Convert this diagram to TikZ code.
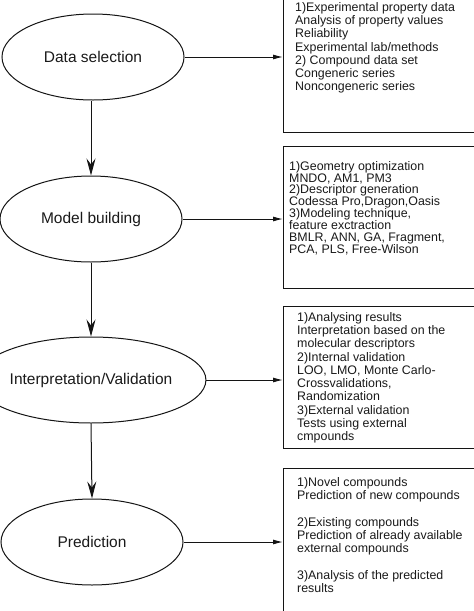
\documentclass[tikz,border=0pt]{standalone}
\usepackage{fontspec}
\setmainfont{Liberation Sans}
\usetikzlibrary{shapes.geometric, arrows.meta}
\definecolor{lineblack}{RGB}{20,20,20}
\definecolor{textgray}{RGB}{25,25,25}

\begin{document}
\begin{tikzpicture}[x=1pt, y=-1pt,
  stage/.style={draw=lineblack, line width=1pt, ellipse, minimum width=182pt, minimum height=86pt, inner sep=0pt, font=\fontsize{15.5}{18}\selectfont, text=textgray},
  infobox/.style={draw=lineblack, line width=1pt, rectangle, anchor=north west, minimum width=200pt, inner sep=0pt},
  infotext/.style={anchor=north west, align=left, inner sep=0pt, text=textgray, font=\fontsize{12.4}{13.3}\selectfont},
  flowarrow/.style={draw=lineblack, line width=1pt, -{Stealth[length=17pt, width=9pt, inset=6pt]}},
  linkarrow/.style={draw=lineblack, line width=1pt, -{Latex[length=10pt, width=5pt]}}]
\useasboundingbox (0,0) rectangle (474,611);

% Stages
\node[stage] (select) at (93,57) {Data selection};
\node[stage] (build) at (91,219) {Model building};
\node[stage] (valid) at (91,380) {Interpretation/Validation};
\node[stage] (predict) at (92,542) {Prediction};

% Detail boxes
\node[infobox, minimum height=137pt] (dataset) at (283,-5) {};
\node[infobox, minimum height=142pt] (modeling) at (283,146) {};
\node[infobox, minimum height=142pt] (checks) at (283,306) {};
\node[infobox, minimum height=152pt] (outcome) at (283,468) {};

% Box texts
\node[infotext] (dataset text) at (295,2) {1)Experimental property data\\Analysis of property values\\Reliability\\Experimental lab/methods\\2) Compound data set\\Congeneric series\\Noncongeneric series};
\node[infotext, font=\fontsize{12.4}{11.9}\selectfont] (modeling text) at (289,161) {1)Geometry optimization\\MNDO, AM1, PM3\\2)Descriptor generation\\Codessa Pro,Dragon,Oasis\\3)Modeling technique,\\feature exctraction\\BMLR, ANN, GA, Fragment,\\PCA, PLS, Free-Wilson};
\node[infotext] (checks text) at (297,312) {1)Analysing results\\Interpretation based on the\\molecular descriptors\\2)Internal validation\\LOO, LMO, Monte Carlo-\\Crossvalidations,\\Randomization\\3)External validation\\Tests using external\\cmpounds};
\node[infotext] (outcome text) at (297,477) {1)Novel compounds\\Prediction of new compounds\\[13.3pt]2)Existing compounds\\Prediction of already available\\external compounds\\[13.3pt]3)Analysis of the predicted\\results};

% Flow
\draw[flowarrow] (build.north |- select.south) -- (build.north);
\draw[flowarrow] (build.south) -- (valid.north);
\draw[flowarrow] (valid.south) -- (predict.north);

% Links to boxes
\draw[linkarrow] (select.east) -- (select.east -| dataset.west);
\draw[linkarrow] (build.east) -- (build.east -| modeling.west);
\draw[linkarrow] (valid.east) -- (valid.east -| checks.west);
\draw[linkarrow] (predict.east) -- (predict.east -| outcome.west);
\end{tikzpicture}
\end{document}
